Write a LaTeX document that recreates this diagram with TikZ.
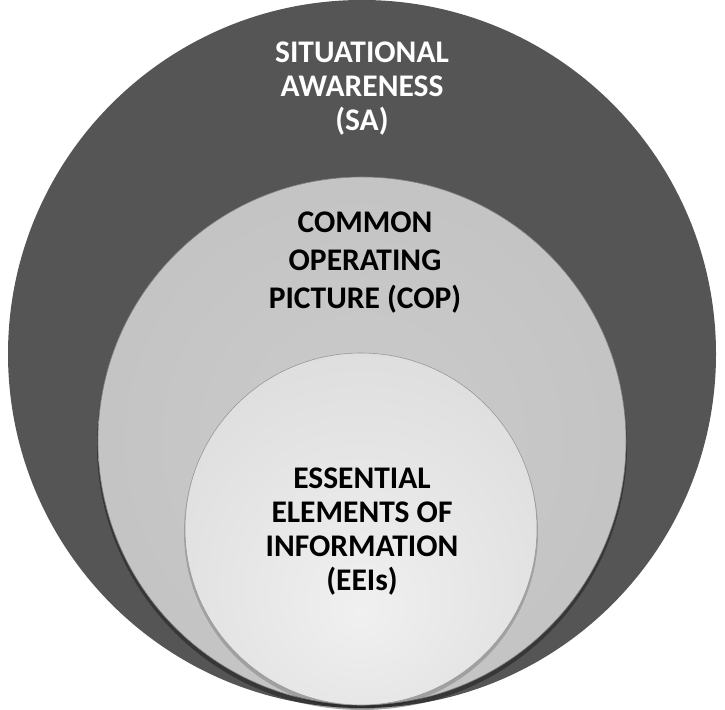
\documentclass[tikz,border=0pt]{standalone}
\usepackage{fontspec}
\setmainfont{Carlito}
\definecolor{outerc}{HTML}{555555}
\definecolor{midA}{HTML}{CBCBCB}
\definecolor{midB}{HTML}{C0C0C0}
\definecolor{midC}{HTML}{A9A9A9}
\definecolor{inA}{HTML}{F0F0F0}
\definecolor{inB}{HTML}{DCDCDC}
\definecolor{inC}{HTML}{CACACA}
\pgfdeclareradialshading{midshade}{\pgfpoint{0bp}{0bp}}{color(0bp)=(midA); color(38bp)=(midB); color(50bp)=(midC)}
\pgfdeclareradialshading{inshade}{\pgfpoint{0bp}{-12bp}}{color(0bp)=(inA); color(35bp)=(inB); color(62bp)=(inC)}
\tikzset{
  lbl/.style={align=center, font=\fontsize{31.5}{34}\selectfont\bfseries, inner sep=0pt}
}
\begin{document}
\begin{tikzpicture}[x=1pt,y=1pt]
\useasboundingbox (0,0) rectangle (725,709);
% outer circle
\fill[outerc] (362,355) circle (354);
% shadow of middle circle
\fill[black, opacity=0.35] (362,264) circle (265);
% middle circle
\shade[shading=midshade, draw=black!50, line width=0.6pt] (362,268) circle (264);
% shadow of inner circle
\fill[black, opacity=0.18] (361,177) circle (177);
% inner circle
\shade[shading=inshade, draw=black!40, line width=0.6pt] (361,180) circle (176);
% labels
\node[lbl, text=white] (sa) at (362,620) {SITUATIONAL\\AWARENESS\\(SA)};
\node[lbl, text=black, font=\fontsize{31.5}{38}\selectfont\bfseries] (cop) at (365,446) {COMMON\\OPERATING\\PICTURE (COP)};
\node[lbl, text=black, font=\fontsize{31.5}{34}\selectfont\bfseries] (eei) at (362,177) {ESSENTIAL\\ELEMENTS OF\\INFORMATION\\(EEIs)};
\end{tikzpicture}
\end{document}
